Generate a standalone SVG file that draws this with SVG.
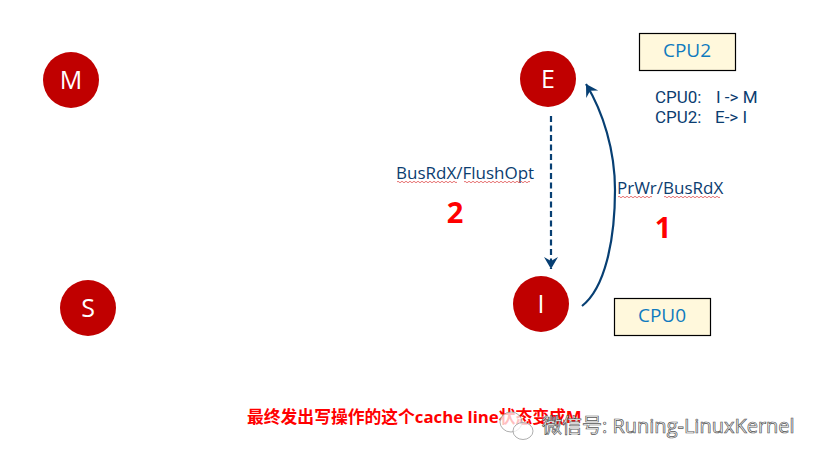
<svg xmlns="http://www.w3.org/2000/svg" width="822" height="464" viewBox="0 0 822 464">
<style>
text{font-family:"Open Sans","Noto Sans","Noto Sans CJK SC",sans-serif}
.st circle{fill:#c00000}
.st text{fill:#fff;font-size:25px;text-anchor:middle}
.cpu rect{fill:#fff8dc;stroke:#000;stroke-width:1.2}
.cpu text{fill:#0f7bbf;font-size:19px;text-anchor:middle}
.lb{fill:#0b3d70;font-size:17px}
.rb{font-family:Roboto,"Open Sans",sans-serif}
.num{fill:#f00;font-size:29px;font-weight:700;text-anchor:middle}
.sq{fill:none;stroke:#e05050;stroke-width:.8}
.con{fill:none;stroke:#073f73;stroke-width:2.200}
</style>
<defs>
<marker id="ah" markerUnits="userSpaceOnUse" markerWidth="16" markerHeight="16" refX="13" refY="8" orient="auto"><path d="M13 8 L1 1 L5 8 L1 15Z" fill="#073f73"/></marker>
</defs>
<rect width="822" height="464" fill="#fff"/>
<g id="node-M" class="st"><circle cx="71" cy="80" r="28"/><text x="71" y="89">M</text></g>
<g id="node-E" class="st"><circle cx="548" cy="79" r="28"/><text x="548" y="88">E</text></g>
<g id="node-S" class="st"><circle cx="88" cy="308" r="28"/><text x="88" y="317">S</text></g>
<g id="node-I" class="st"><circle cx="541" cy="304" r="28"/><text x="541" y="313">I</text></g>
<g id="node-cpu2" class="cpu"><rect x="639.500" y="33.500" width="96" height="37"/><text x="687" y="57">CPU2</text></g>
<g id="node-cpu0" class="cpu"><rect x="614.500" y="298.500" width="96" height="37"/><text x="662" y="322">CPU0</text></g>
<g id="connectors">
<path class="con" stroke-dasharray="6 3.500" d="M551 116 V269" marker-end="url(#ah)"/>
<path class="con" d="M582 306 C605 288 615 240 615 190 C615 150 603 112 586 84" marker-end="url(#ah)"/>
</g>
<g id="labels">
<text class="lb rb"><tspan x="655" y="103">CPU0:</tspan><tspan x="716" y="103">I -&gt; M</tspan></text>
<text class="lb rb"><tspan x="655" y="123">CPU2:</tspan><tspan x="715" y="123">E-&gt; I</tspan></text>
<text class="lb" x="396" y="179">BusRdX/FlushOpt</text>
<text class="lb" x="617" y="194">PrWr/BusRdX</text>
<path class="sq" d="M397 182q1-1.500 2 0t2 0 2 0 2 0 2 0 2 0 2 0 2 0 2 0 2 0 2 0 2 0 2 0 2 0 2 0 2 0 2 0 2 0 2 0 2 0 2 0 2 0 2 0 2 0 2 0 2 0 2 0 2 0 2 0 2 0M464 182q1-1.500 2 0t2 0 2 0 2 0 2 0 2 0 2 0 2 0 2 0 2 0 2 0 2 0 2 0 2 0 2 0 2 0 2 0 2 0 2 0 2 0 2 0 2 0 2 0 2 0 2 0 2 0 2 0 2 0 2 0 2 0 2 0 2 0 2 0"/>
<path class="sq" d="M618 197q1-1.500 2 0t2 0 2 0 2 0 2 0 2 0 2 0 2 0 2 0 2 0 2 0 2 0 2 0 2 0 2 0 2 0 2 0M664 197q1-1.500 2 0t2 0 2 0 2 0 2 0 2 0 2 0 2 0 2 0 2 0 2 0 2 0 2 0 2 0 2 0 2 0 2 0 2 0 2 0 2 0 2 0 2 0 2 0 2 0 2 0 2 0 2 0 2 0"/>
<text class="num" x="455" y="223">2</text>
<text class="num" x="663" y="238">1</text>
<text x="247" y="423" fill="#f00" font-size="16.800" font-weight="700">最终发出写操作的这个cache line状态变成M</text>
</g>
<g id="watermark">
<g fill="#fff" fill-opacity=".75" stroke="#999" stroke-width=".8"><ellipse cx="511" cy="422" rx="11" ry="10"/><ellipse cx="523" cy="431" rx="10" ry="8.500"/></g>
<text x="542" y="433" fill="#fff" stroke="#555" stroke-width=".7" font-size="20">微信号: Runing-LinuxKernel</text>
</g>
</svg>
